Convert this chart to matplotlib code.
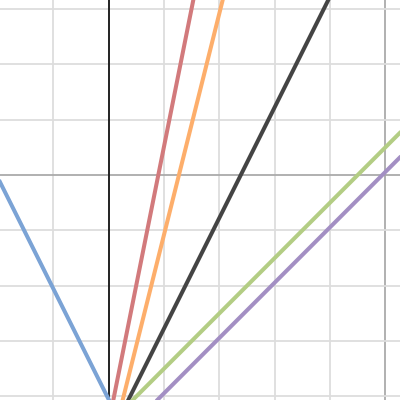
import numpy as np
import matplotlib
matplotlib.use("Agg")
import matplotlib.pyplot as plt

# lines y = slope * x + intercept (grid units, y-axis at x = 0)
names = ["blue", "red", "orange", "black", "green", "purple"]
slopes = [-2, 5, 4, 2, 1, 1]
intercepts = [0.94, 0.515, -0.08, 0.223, 0.497, 0.052]
colors = ["#7ba3d5", "#d27a7c", "#fdae6b", "#444444", "#b3cd84", "#a38fc3"]

# blue only left of the y-axis
x_ranges = [(-3, 0.5), (-3, 7), (-3, 7), (-3, 7), (-3, 7), (-3, 7)]

xmin, xmax = -1.966, 5.268
ymin, ymax = 0.931, 8.165

fig = plt.figure(figsize=(4, 4), dpi=100)
ax = fig.add_axes([0, 0, 1, 1])
ax.set_xlim(xmin, xmax)
ax.set_ylim(ymin, ymax)

# minor grid every 1, major every 5
for gx in range(-2, 6):
    c, lw = ("#aaaaaa", 1.3) if gx % 5 == 0 else ("#dddddd", 1.3)
    if gx != 0:
        ax.axvline(gx, color=c, lw=lw, zorder=0)
for gy in range(0, 9):
    c, lw = ("#aaaaaa", 1.3) if gy % 5 == 0 else ("#dddddd", 1.3)
    ax.axhline(gy, color=c, lw=lw, zorder=0)
ax.axvline(0, color="#222222", lw=1.4, zorder=1)

for name, m, b, col, (x0, x1) in zip(names, slopes, intercepts, colors, x_ranges):
    xs = np.array([x0, x1])
    ax.plot(xs, m * xs + b, color=col, lw=2.9, solid_capstyle="butt", zorder=2)

ax.set_xticks([])
ax.set_yticks([])
for s in ax.spines.values():
    s.set_visible(False)

fig.savefig("out.png", dpi=100)
